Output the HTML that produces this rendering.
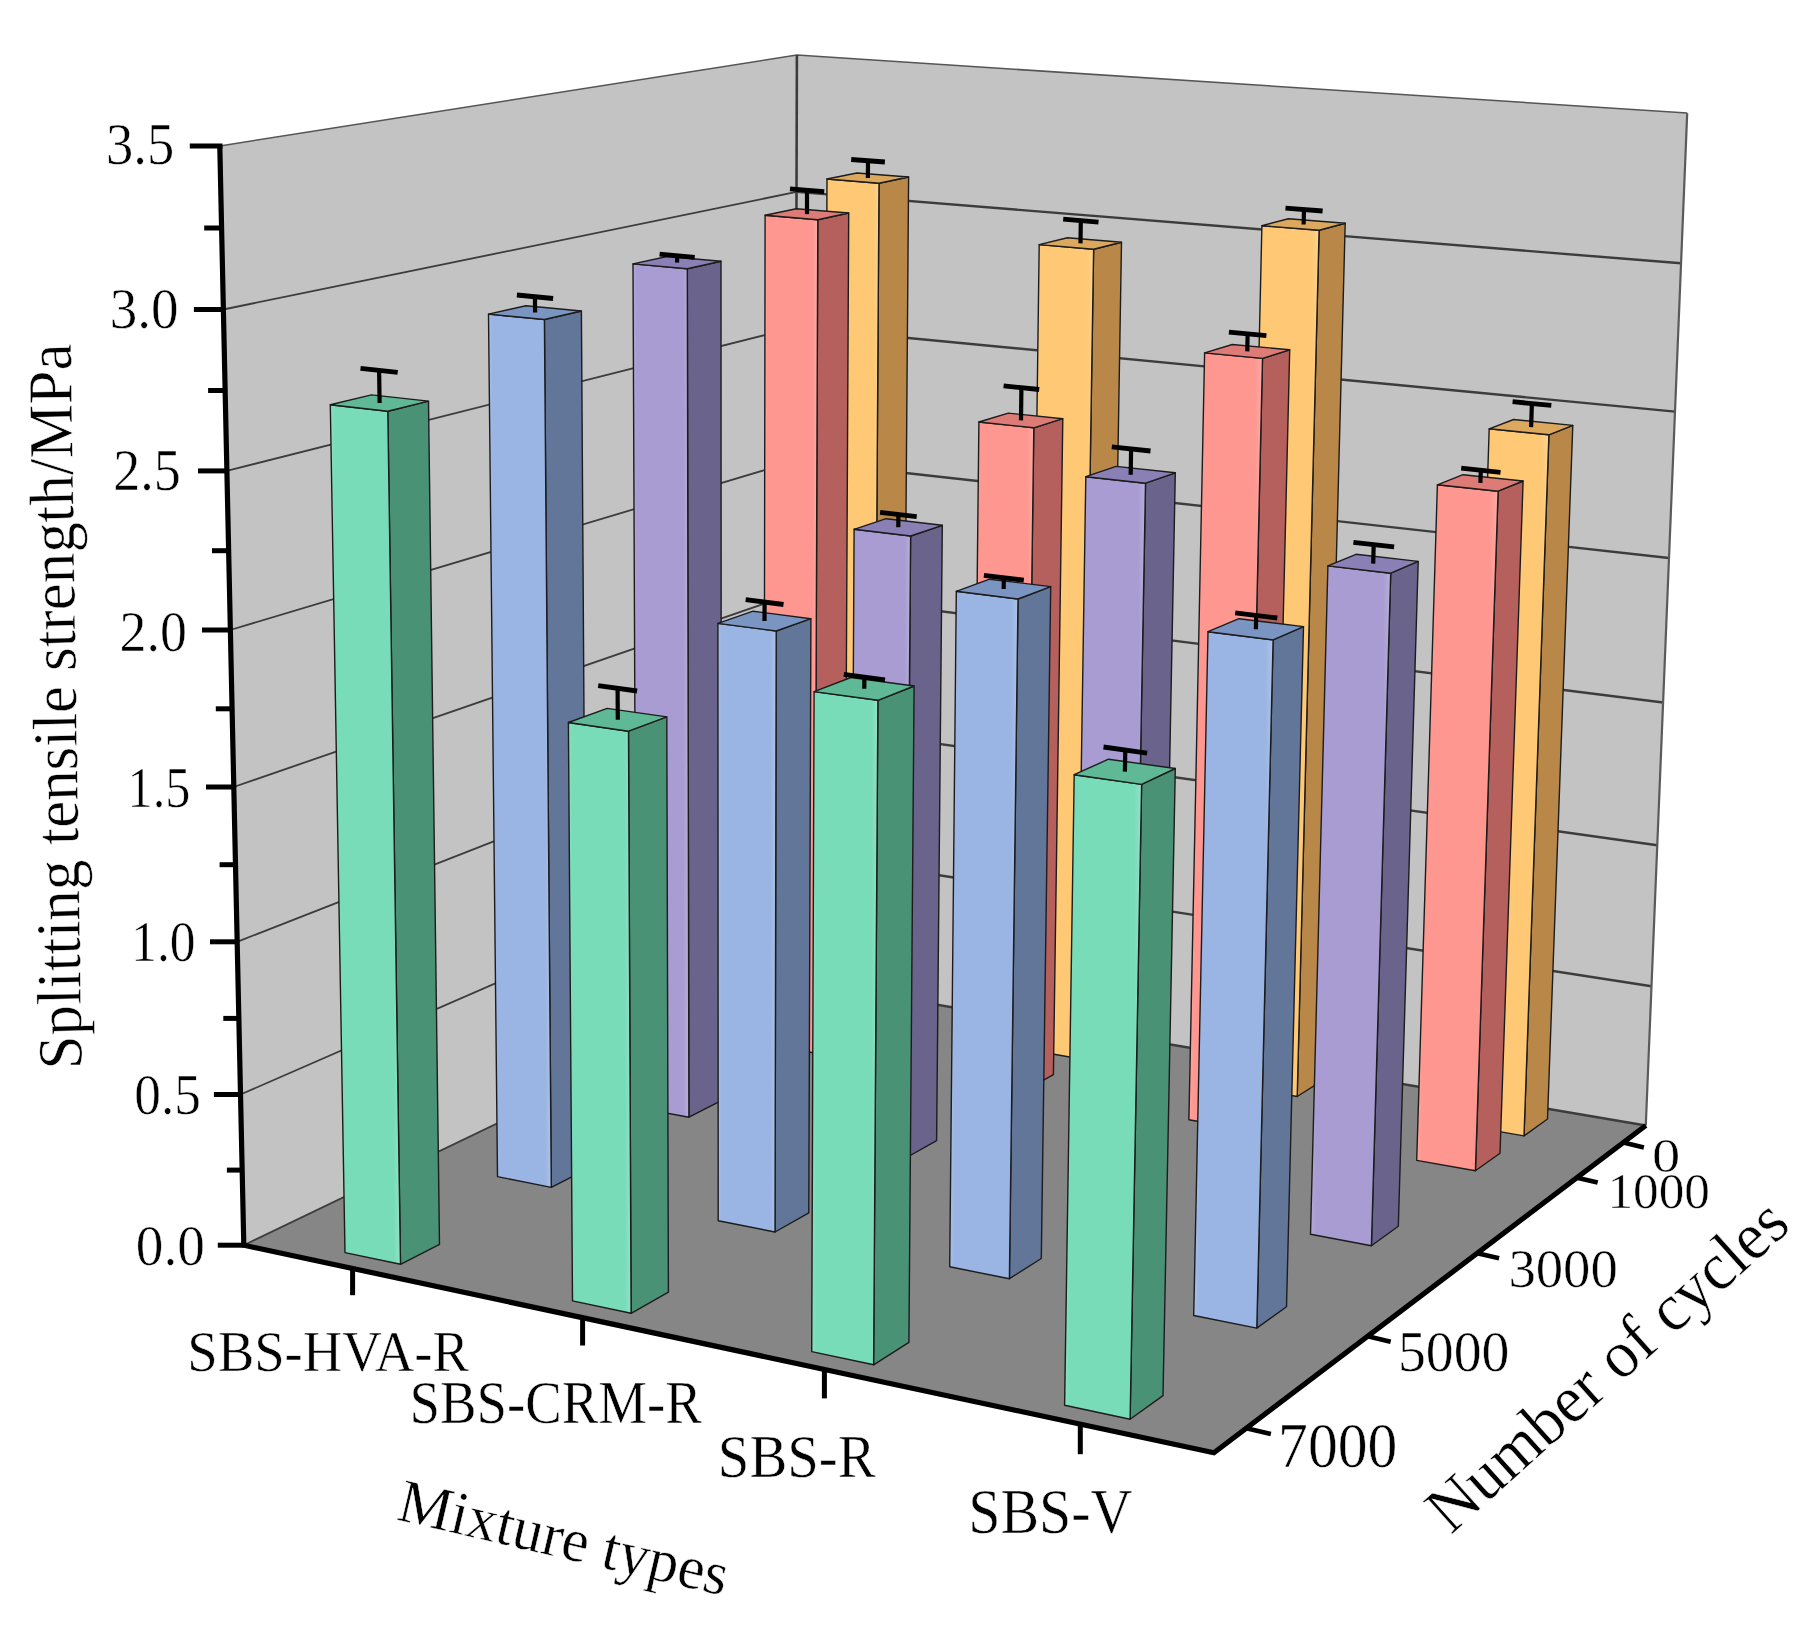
<!DOCTYPE html><html><head><meta charset="utf-8"><title>Splitting tensile strength</title><style>html,body{margin:0;padding:0;background:#fff}svg{display:block}text{font-family:"Liberation Serif",serif;fill:#000;stroke:#fff;stroke-width:0.5px}</style></head><body>
<svg width="1812" height="1625" viewBox="0 0 1812 1625">
<rect width="1812" height="1625" fill="#fff"/>
<defs>
<linearGradient id="f7000" x1="0" x2="1" y1="0" y2="0"><stop offset="0" stop-color="#88e0c0"/><stop offset="0.07" stop-color="#78dcb8"/><stop offset="0.9" stop-color="#78dcb8"/><stop offset="1" stop-color="#93e3c6"/></linearGradient>
<linearGradient id="f5000" x1="0" x2="1" y1="0" y2="0"><stop offset="0" stop-color="#a6bde6"/><stop offset="0.07" stop-color="#9ab5e3"/><stop offset="0.9" stop-color="#9ab5e3"/><stop offset="1" stop-color="#aec3e8"/></linearGradient>
<linearGradient id="f3000" x1="0" x2="1" y1="0" y2="0"><stop offset="0" stop-color="#b3a7d8"/><stop offset="0.07" stop-color="#a99cd3"/><stop offset="0.9" stop-color="#a99cd3"/><stop offset="1" stop-color="#baafdb"/></linearGradient>
<linearGradient id="f1000" x1="0" x2="1" y1="0" y2="0"><stop offset="0" stop-color="#ffa39e"/><stop offset="0.07" stop-color="#ff9791"/><stop offset="0.9" stop-color="#ff9791"/><stop offset="1" stop-color="#ffaba7"/></linearGradient>
<linearGradient id="f0" x1="0" x2="1" y1="0" y2="0"><stop offset="0" stop-color="#ffce84"/><stop offset="0.07" stop-color="#ffc874"/><stop offset="0.9" stop-color="#ffc874"/><stop offset="1" stop-color="#ffd38f"/></linearGradient>
</defs>
<polygon points="243.8,1245.2 219.8,145.9 796.9,55.1 794.3,980.4" fill="#c3c3c3"/>
<polygon points="794.3,980.4 796.9,55.1 1687.2,113.1 1645.8,1125.5" fill="#c3c3c3"/>
<polygon points="243.8,1245.2 794.3,980.4 1645.8,1125.5 1213.9,1452.8" fill="#868686"/>
<g stroke="#3c3c3c" stroke-linejoin="round" stroke-linecap="butt">
<polyline points="240.5,1094.5 794.6,852.7" fill="none" stroke-width="1.8"/>
<polyline points="794.6,852.7 1651.5,986.3" fill="none" stroke-width="2.4"/>
<polyline points="237.1,941.8 795.0,723.6" fill="none" stroke-width="1.8"/>
<polyline points="795.0,723.6 1657.2,845.3" fill="none" stroke-width="2.4"/>
<polyline points="233.7,787.0 795.4,592.9" fill="none" stroke-width="1.8"/>
<polyline points="795.4,592.9 1663.1,702.5" fill="none" stroke-width="2.4"/>
<polyline points="230.3,630.0 795.7,460.8" fill="none" stroke-width="1.8"/>
<polyline points="795.7,460.8 1669.0,558.0" fill="none" stroke-width="2.4"/>
<polyline points="226.8,470.9 796.1,327.2" fill="none" stroke-width="1.8"/>
<polyline points="796.1,327.2 1675.0,411.6" fill="none" stroke-width="2.4"/>
<polyline points="223.3,309.5 796.5,191.9" fill="none" stroke-width="1.8"/>
<polyline points="796.5,191.9 1681.0,263.3" fill="none" stroke-width="2.4"/>
<polyline points="219.8,145.9 796.9,55.1 1687.2,113.1" fill="none" stroke-width="1.5" stroke="#555"/>
<polyline points="794.3,980.4 796.9,55.1" fill="none" stroke-width="2.6"/>
<polyline points="1645.8,1125.5 1687.2,113.1" fill="none" stroke-width="2.2" stroke="#5a5a5a"/>
<polyline points="243.8,1245.2 794.3,980.4" fill="none" stroke-width="1.8"/>
<polyline points="794.3,980.4 1645.8,1125.5" fill="none" stroke-width="2.4"/>
</g>
<g stroke="#1c1c1c" stroke-width="1.4" stroke-linejoin="round">
<polygon points="873.6,1022.9 902.2,1008.4 908.6,177.0 879.0,183.2" fill="#b98848"/>
<polygon points="823.5,1014.2 873.6,1022.9 879.0,183.2 827.0,179.0" fill="url(#f0)"/>
<polygon points="827.0,179.0 879.0,183.2 908.6,177.0 856.9,173.0" fill="#dca85e"/>
</g>
<line x1="867.9" y1="178.0" x2="868.0" y2="160.7" stroke="#000" stroke-width="4.2"/>
<line x1="851.2" y1="159.5" x2="884.9" y2="162.0" stroke="#000" stroke-width="4.8"/>
<g stroke="#1c1c1c" stroke-width="1.4" stroke-linejoin="round">
<polygon points="1081.0,1059.0 1108.1,1043.7 1121.5,242.2 1093.6,249.2" fill="#b98848"/>
<polygon points="1028.5,1049.8 1081.0,1059.0 1093.6,249.2 1039.2,244.6" fill="url(#f0)"/>
<polygon points="1039.2,244.6 1093.6,249.2 1121.5,242.2 1067.5,237.7" fill="#dca85e"/>
</g>
<line x1="1080.5" y1="243.4" x2="1080.8" y2="220.7" stroke="#000" stroke-width="4.2"/>
<line x1="1063.2" y1="219.2" x2="1098.5" y2="222.1" stroke="#000" stroke-width="4.8"/>
<g stroke="#1c1c1c" stroke-width="1.4" stroke-linejoin="round">
<polygon points="1297.2,1096.5 1322.6,1080.4 1345.2,223.3 1319.1,230.3" fill="#b98848"/>
<polygon points="1242.2,1087.0 1297.2,1096.5 1319.1,230.3 1261.9,225.7" fill="url(#f0)"/>
<polygon points="1261.9,225.7 1319.1,230.3 1345.2,223.3 1288.4,218.8" fill="#dca85e"/>
</g>
<line x1="1303.6" y1="224.5" x2="1304.0" y2="209.6" stroke="#000" stroke-width="4.2"/>
<line x1="1285.5" y1="208.1" x2="1322.6" y2="211.0" stroke="#000" stroke-width="4.8"/>
<g stroke="#1c1c1c" stroke-width="1.4" stroke-linejoin="round">
<polygon points="1524.0,1135.9 1547.5,1119.0 1572.8,425.4 1548.9,434.8" fill="#b98848"/>
<polygon points="1466.3,1125.9 1524.0,1135.9 1548.9,434.8 1489.2,428.8" fill="url(#f0)"/>
<polygon points="1489.2,428.8 1548.9,434.8 1572.8,425.4 1513.6,419.5" fill="#dca85e"/>
</g>
<line x1="1531.1" y1="427.1" x2="1531.9" y2="403.6" stroke="#000" stroke-width="4.2"/>
<line x1="1512.6" y1="401.7" x2="1551.3" y2="405.4" stroke="#000" stroke-width="4.8"/>
<g stroke="#1c1c1c" stroke-width="1.4" stroke-linejoin="round">
<polygon points="814.7,1053.0 844.5,1037.8 848.7,213.0 817.8,219.7" fill="#b5605c"/>
<polygon points="763.8,1044.0 814.7,1053.0 817.8,219.7 765.1,215.2" fill="url(#f1000)"/>
<polygon points="765.1,215.2 817.8,219.7 848.7,213.0 796.3,208.7" fill="#dd7b77"/>
</g>
<line x1="807.0" y1="214.1" x2="807.0" y2="190.2" stroke="#000" stroke-width="4.2"/>
<line x1="790.0" y1="188.9" x2="824.2" y2="191.6" stroke="#000" stroke-width="4.8"/>
<g stroke="#1c1c1c" stroke-width="1.4" stroke-linejoin="round">
<polygon points="1025.1,1090.5 1053.4,1074.6 1062.8,418.7 1033.8,427.8" fill="#b5605c"/>
<polygon points="971.8,1081.0 1025.1,1090.5 1033.8,427.8 978.9,422.0" fill="url(#f1000)"/>
<polygon points="978.9,422.0 1033.8,427.8 1062.8,418.7 1008.3,413.1" fill="#dd7b77"/>
</g>
<line x1="1021.0" y1="420.4" x2="1021.4" y2="387.7" stroke="#000" stroke-width="4.2"/>
<line x1="1003.6" y1="385.9" x2="1039.2" y2="389.5" stroke="#000" stroke-width="4.8"/>
<g stroke="#1c1c1c" stroke-width="1.4" stroke-linejoin="round">
<polygon points="1244.8,1129.7 1271.3,1112.9 1289.7,349.8 1262.5,358.4" fill="#b5605c"/>
<polygon points="1188.9,1119.7 1244.8,1129.7 1262.5,358.4 1204.6,352.9" fill="url(#f1000)"/>
<polygon points="1204.6,352.9 1262.5,358.4 1289.7,349.8 1232.3,344.5" fill="#dd7b77"/>
</g>
<line x1="1247.3" y1="351.4" x2="1247.6" y2="333.9" stroke="#000" stroke-width="4.2"/>
<line x1="1228.9" y1="332.2" x2="1266.4" y2="335.7" stroke="#000" stroke-width="4.8"/>
<g stroke="#1c1c1c" stroke-width="1.4" stroke-linejoin="round">
<polygon points="1475.4,1170.8 1500.0,1153.2 1523.1,481.0 1498.1,491.2" fill="#b5605c"/>
<polygon points="1416.7,1160.4 1475.4,1170.8 1498.1,491.2 1437.4,484.8" fill="url(#f1000)"/>
<polygon points="1437.4,484.8 1498.1,491.2 1523.1,481.0 1463.0,474.7" fill="#dd7b77"/>
</g>
<line x1="1480.4" y1="482.9" x2="1480.8" y2="470.3" stroke="#000" stroke-width="4.2"/>
<line x1="1461.2" y1="468.2" x2="1500.5" y2="472.3" stroke="#000" stroke-width="4.8"/>
<g stroke="#1c1c1c" stroke-width="1.4" stroke-linejoin="round">
<polygon points="688.9,1117.2 721.3,1100.6 721.0,261.3 687.3,268.8" fill="#6a638c"/>
<polygon points="636.5,1107.4 688.9,1117.2 687.3,268.8 633.0,263.9" fill="url(#f3000)"/>
<polygon points="633.0,263.9 687.3,268.8 721.0,261.3 667.1,256.5" fill="#8a80b5"/>
</g>
<line x1="677.1" y1="262.6" x2="677.1" y2="255.8" stroke="#000" stroke-width="4.2"/>
<line x1="659.6" y1="254.2" x2="694.7" y2="257.4" stroke="#000" stroke-width="4.8"/>
<g stroke="#1c1c1c" stroke-width="1.4" stroke-linejoin="round">
<polygon points="905.7,1158.0 936.6,1140.6 942.3,525.3 910.6,536.0" fill="#6a638c"/>
<polygon points="850.8,1147.7 905.7,1158.0 910.6,536.0 854.1,529.3" fill="url(#f3000)"/>
<polygon points="854.1,529.3 910.6,536.0 942.3,525.3 886.2,518.7" fill="#8a80b5"/>
</g>
<line x1="898.3" y1="527.3" x2="898.4" y2="514.5" stroke="#000" stroke-width="4.2"/>
<line x1="880.1" y1="512.4" x2="916.7" y2="516.6" stroke="#000" stroke-width="4.8"/>
<g stroke="#1c1c1c" stroke-width="1.4" stroke-linejoin="round">
<polygon points="1132.6,1200.8 1161.6,1182.4 1175.3,472.8 1145.5,483.2" fill="#6a638c"/>
<polygon points="1074.8,1189.9 1132.6,1200.8 1145.5,483.2 1085.8,476.7" fill="url(#f3000)"/>
<polygon points="1085.8,476.7 1145.5,483.2 1175.3,472.8 1116.1,466.4" fill="#8a80b5"/>
</g>
<line x1="1130.7" y1="474.7" x2="1131.1" y2="448.9" stroke="#000" stroke-width="4.2"/>
<line x1="1111.8" y1="446.9" x2="1150.5" y2="451.0" stroke="#000" stroke-width="4.8"/>
<g stroke="#1c1c1c" stroke-width="1.4" stroke-linejoin="round">
<polygon points="1371.4,1245.7 1398.3,1226.3 1418.2,561.4 1390.7,573.2" fill="#6a638c"/>
<polygon points="1310.5,1234.2 1371.4,1245.7 1390.7,573.2 1327.9,565.9" fill="url(#f3000)"/>
<polygon points="1327.9,565.9 1390.7,573.2 1418.2,561.4 1356.0,554.3" fill="#8a80b5"/>
</g>
<line x1="1373.2" y1="563.6" x2="1373.7" y2="544.6" stroke="#000" stroke-width="4.2"/>
<line x1="1353.4" y1="542.3" x2="1394.1" y2="546.9" stroke="#000" stroke-width="4.8"/>
<g stroke="#1c1c1c" stroke-width="1.4" stroke-linejoin="round">
<polygon points="551.3,1187.4 586.9,1169.2 581.4,311.0 544.4,319.5" fill="#62769a"/>
<polygon points="497.5,1176.6 551.3,1187.4 544.4,319.5 488.5,314.1" fill="url(#f5000)"/>
<polygon points="488.5,314.1 544.4,319.5 581.4,311.0 525.9,305.7" fill="#7b95c2"/>
</g>
<line x1="535.1" y1="312.5" x2="534.9" y2="296.8" stroke="#000" stroke-width="4.2"/>
<line x1="516.9" y1="295.0" x2="553.1" y2="298.5" stroke="#000" stroke-width="4.8"/>
<g stroke="#1c1c1c" stroke-width="1.4" stroke-linejoin="round">
<polygon points="775.0,1232.0 808.8,1212.8 810.9,618.7 776.2,631.0" fill="#62769a"/>
<polygon points="718.2,1220.7 775.0,1232.0 776.2,631.0 717.9,623.4" fill="url(#f5000)"/>
<polygon points="717.9,623.4 776.2,631.0 810.9,618.7 753.1,611.2" fill="#7b95c2"/>
</g>
<line x1="764.5" y1="621.0" x2="764.6" y2="602.1" stroke="#000" stroke-width="4.2"/>
<line x1="745.7" y1="599.7" x2="783.5" y2="604.5" stroke="#000" stroke-width="4.8"/>
<g stroke="#1c1c1c" stroke-width="1.4" stroke-linejoin="round">
<polygon points="1009.4,1278.7 1041.3,1258.5 1050.7,586.6 1018.0,599.0" fill="#62769a"/>
<polygon points="949.7,1266.8 1009.4,1278.7 1018.0,599.0 956.3,591.3" fill="url(#f5000)"/>
<polygon points="956.3,591.3 1018.0,599.0 1050.7,586.6 989.6,579.2" fill="#7b95c2"/>
</g>
<line x1="1003.7" y1="589.0" x2="1003.8" y2="577.8" stroke="#000" stroke-width="4.2"/>
<line x1="983.9" y1="575.4" x2="1023.8" y2="580.2" stroke="#000" stroke-width="4.8"/>
<g stroke="#1c1c1c" stroke-width="1.4" stroke-linejoin="round">
<polygon points="1256.8,1328.1 1286.5,1306.7 1303.5,626.6 1273.1,639.9" fill="#62769a"/>
<polygon points="1193.7,1315.5 1256.8,1328.1 1273.1,639.9 1208.0,631.7" fill="url(#f5000)"/>
<polygon points="1208.0,631.7 1273.1,639.9 1303.5,626.6 1239.0,618.7" fill="#7b95c2"/>
</g>
<line x1="1255.9" y1="629.2" x2="1256.2" y2="615.4" stroke="#000" stroke-width="4.2"/>
<line x1="1235.2" y1="612.8" x2="1277.3" y2="618.0" stroke="#000" stroke-width="4.8"/>
<g stroke="#1c1c1c" stroke-width="1.4" stroke-linejoin="round">
<polygon points="400.5,1264.3 439.5,1244.4 428.5,401.1 387.8,411.2" fill="#4a9276"/>
<polygon points="345.0,1252.6 400.5,1264.3 387.8,411.2 330.3,404.8" fill="url(#f7000)"/>
<polygon points="330.3,404.8 387.8,411.2 428.5,401.1 371.5,394.9" fill="#5fb896"/>
</g>
<line x1="379.6" y1="403.0" x2="379.1" y2="370.3" stroke="#000" stroke-width="4.2"/>
<line x1="360.5" y1="368.4" x2="397.7" y2="372.3" stroke="#000" stroke-width="4.8"/>
<g stroke="#1c1c1c" stroke-width="1.4" stroke-linejoin="round">
<polygon points="631.1,1313.3 668.4,1292.2 666.8,716.9 628.5,731.2" fill="#4a9276"/>
<polygon points="572.5,1300.9 631.1,1313.3 628.5,731.2 568.4,722.5" fill="url(#f7000)"/>
<polygon points="568.4,722.5 628.5,731.2 666.8,716.9 607.2,708.4" fill="#5fb896"/>
</g>
<line x1="617.8" y1="719.7" x2="617.6" y2="688.3" stroke="#000" stroke-width="4.2"/>
<line x1="598.2" y1="685.6" x2="637.1" y2="691.0" stroke="#000" stroke-width="4.8"/>
<g stroke="#1c1c1c" stroke-width="1.4" stroke-linejoin="round">
<polygon points="873.6,1364.8 908.9,1342.4 914.1,686.0 877.9,700.3" fill="#4a9276"/>
<polygon points="811.7,1351.6 873.6,1364.8 877.9,700.3 814.1,691.6" fill="url(#f7000)"/>
<polygon points="814.1,691.6 877.9,700.3 914.1,686.0 850.9,677.5" fill="#5fb896"/>
</g>
<line x1="864.3" y1="688.8" x2="864.4" y2="677.1" stroke="#000" stroke-width="4.2"/>
<line x1="843.8" y1="674.3" x2="885.0" y2="679.9" stroke="#000" stroke-width="4.8"/>
<g stroke="#1c1c1c" stroke-width="1.4" stroke-linejoin="round">
<polygon points="1130.1,1419.2 1163.0,1395.6 1175.3,768.5 1141.6,784.4" fill="#4a9276"/>
<polygon points="1064.6,1405.3 1130.1,1419.2 1141.6,784.4 1074.2,774.7" fill="url(#f7000)"/>
<polygon points="1074.2,774.7 1141.6,784.4 1175.3,768.5 1108.5,759.2" fill="#5fb896"/>
</g>
<line x1="1124.9" y1="771.6" x2="1125.3" y2="750.1" stroke="#000" stroke-width="4.2"/>
<line x1="1103.5" y1="747.0" x2="1147.1" y2="753.1" stroke="#000" stroke-width="4.8"/>
<g stroke="#000" fill="none" stroke-linecap="butt">
<polyline points="219.8,145.9 243.8,1245.2 1213.9,1452.8 1645.8,1125.5" stroke-width="5.2" stroke-linejoin="miter"/>
<line x1="217.8" y1="1245.2" x2="243.8" y2="1245.2" stroke-width="5"/>
<line x1="226.9" y1="1170.1" x2="242.1" y2="1170.1" stroke-width="5"/>
<line x1="213.9" y1="1094.5" x2="240.5" y2="1094.5" stroke-width="5"/>
<line x1="223.3" y1="1018.4" x2="238.8" y2="1018.4" stroke-width="5"/>
<line x1="210.0" y1="941.8" x2="237.1" y2="941.8" stroke-width="5"/>
<line x1="219.6" y1="864.7" x2="235.4" y2="864.7" stroke-width="5"/>
<line x1="206.0" y1="787.0" x2="233.7" y2="787.0" stroke-width="5"/>
<line x1="215.8" y1="708.8" x2="232.0" y2="708.8" stroke-width="5"/>
<line x1="202.0" y1="630.0" x2="230.3" y2="630.0" stroke-width="5"/>
<line x1="212.0" y1="550.7" x2="228.6" y2="550.7" stroke-width="5"/>
<line x1="198.0" y1="470.9" x2="226.8" y2="470.9" stroke-width="5"/>
<line x1="208.1" y1="390.5" x2="225.1" y2="390.5" stroke-width="5"/>
<line x1="193.9" y1="309.5" x2="223.3" y2="309.5" stroke-width="5"/>
<line x1="204.2" y1="228.0" x2="221.5" y2="228.0" stroke-width="5"/>
<line x1="189.8" y1="145.9" x2="222.5" y2="145.9" stroke-width="5"/>
<line x1="352.6" y1="1268.5" x2="352.6" y2="1295.2" stroke-width="5"/>
<line x1="582.6" y1="1317.7" x2="582.6" y2="1345.5" stroke-width="5"/>
<line x1="824.4" y1="1369.5" x2="824.4" y2="1398.4" stroke-width="5"/>
<line x1="1080.3" y1="1424.2" x2="1080.3" y2="1454.2" stroke-width="5"/>
<line x1="1623.3" y1="1142.5" x2="1643.9" y2="1147.4" stroke-width="4.6"/>
<line x1="1576.9" y1="1177.7" x2="1597.7" y2="1182.6" stroke-width="4.6"/>
<line x1="1477.3" y1="1253.2" x2="1499.1" y2="1258.3" stroke-width="4.6"/>
<line x1="1367.6" y1="1336.3" x2="1390.7" y2="1341.8" stroke-width="4.6"/>
<line x1="1246.3" y1="1428.3" x2="1270.9" y2="1434.1" stroke-width="4.6"/>
</g>
<text transform="translate(106.0,164.1) scale(0.929,1)" font-size="58.7">3.5</text>
<text transform="translate(109.7,328.1) scale(0.956,1)" font-size="57.6">3.0</text>
<text transform="translate(113.3,490.3) scale(0.910,1)" font-size="59.3">2.5</text>
<text transform="translate(119.6,650.5) scale(0.930,1)" font-size="57.9">2.0</text>
<text transform="translate(127.6,807.0) scale(0.891,1)" font-size="56.4">1.5</text>
<text transform="translate(131.2,961.0) scale(0.915,1)" font-size="56.2">1.0</text>
<text transform="translate(134.3,1114.4) scale(0.944,1)" font-size="56.5">0.5</text>
<text transform="translate(135.8,1264.7) scale(0.961,1)" font-size="57.6">0.0</text>
<text transform="translate(187.2,1370.7) scale(0.942,1)" font-size="58.1">SBS-HVA-R</text>
<text transform="translate(409.6,1423.0) scale(0.904,1)" font-size="60.6">SBS-CRM-R</text>
<text transform="translate(717.8,1477.3) scale(0.913,1)" font-size="62.2">SBS-R</text>
<text transform="translate(968.2,1532.6) scale(0.914,1)" font-size="63.4">SBS-V</text>
<text transform="translate(1652.0,1171.8) scale(1.176,1)" font-size="48.0">0</text>
<text transform="translate(1607.5,1208.0) scale(0.991,1)" font-size="51.7">1000</text>
<text transform="translate(1508.4,1286.5) scale(0.988,1)" font-size="55.4">3000</text>
<text transform="translate(1397.9,1371.3) scale(0.973,1)" font-size="57.3">5000</text>
<text transform="translate(1278.1,1466.8) scale(0.940,1)" font-size="63.4">7000</text>
<text transform="translate(81.6,1065.0) rotate(-90.86) scale(0.963,1) translate(-4.10,0)" font-size="63.1">Splitting tensile strength/MPa</text>
<text transform="translate(396.9,1519.6) rotate(13.15) scale(0.982,1) translate(-1.85,0)" font-size="61.5">Mixture types</text>
<text transform="translate(1452.3,1534.2) rotate(-41.97) scale(0.963,1) translate(-2.02,0)" font-size="67.2">Number of cycles</text>
</svg></body></html>
